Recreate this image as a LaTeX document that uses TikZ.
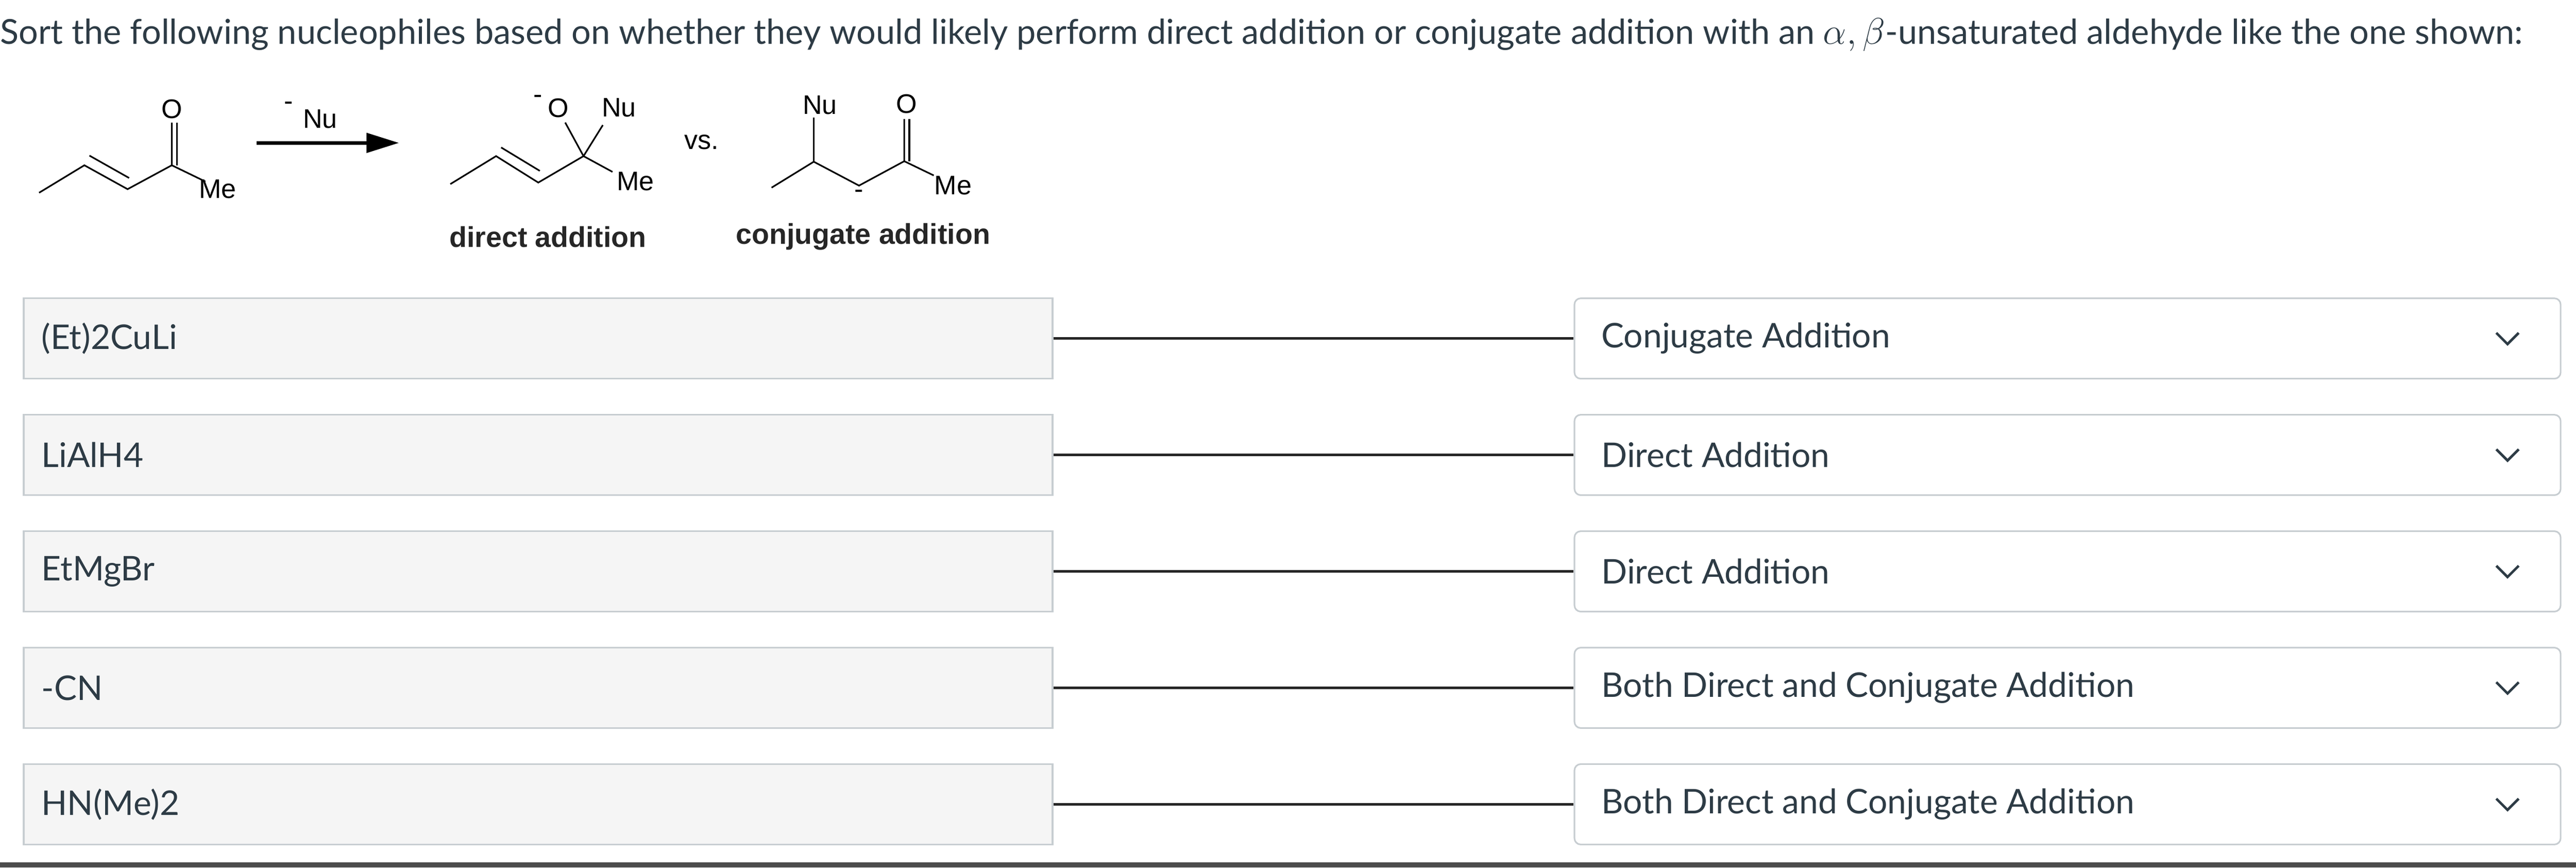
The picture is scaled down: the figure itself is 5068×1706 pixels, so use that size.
\documentclass[tikz,border=0pt]{standalone}
\usepackage{fontspec}
\setmainfont{Lato}
\newfontfamily\chemf{Liberation Sans}
\usetikzlibrary{arrows.meta}
\definecolor{boxfill}{HTML}{F5F5F5}
\definecolor{boxline}{HTML}{C7CDD1}
\definecolor{txt}{HTML}{2D3B45}
\tikzset{
 bond/.style={line width=0.9pt, black},
 chem/.style={font=\chemf\fontsize{15}{17}\selectfont, inner sep=0pt},
 minus/.style={font=\chemf\fontsize{15}{15}\selectfont, inner sep=0pt},
 lab/.style={font=\chemf\bfseries\fontsize{16}{18}\selectfont, inner sep=0pt, text=black!85},
 leftbox/.style={draw=boxline, fill=boxfill, line width=0.9pt, minimum width=20.23cm, minimum height=1.58cm, anchor=north west, inner sep=0pt},
 rightbox/.style={draw=boxline, fill=white, line width=0.9pt, rounded corners=3.5pt, minimum width=19.39cm, minimum height=1.58cm, anchor=north west, inner sep=0pt},
 itemtxt/.style={font=\fontsize{19}{22}\selectfont, text=txt, anchor=west, inner sep=0pt},
 link/.style={line width=1.4pt, black!85},
}
\begin{document}
\begin{tikzpicture}[x=0.01cm,y=-0.01cm]
\useasboundingbox (0,0) rectangle (5068,1706);
\fill[white] (0,0) rectangle (5068,1706);
\node[anchor=west, font=\fontsize{19.2}{22}\selectfont, text=txt, inner sep=0pt] (title) at (0,68)
 {Sort the following nucleophiles based on whether they would likely perform direct addition or conjugate addition with an $\alpha,\beta$-unsaturated aldehyde like the one shown:};
% reactant
\draw[bond] (77,379) -- (166,325) -- (251,372) -- (338,325) -- (338,241);
\draw[bond] (338,325) -- (404,357);
\draw[bond] (176,306) -- (254,350);
\draw[bond] (348,325) -- (348,241);
\node[chem] (o1) at (338,214) {O};
\node[chem] (me1) at (428,372) {Me};
% arrow
\node[chem] (nu0) at (630,234) {Nu};
\node[minus] (m0) at (568,208) {-};
\coordinate (a1) at (505,281);
\coordinate (a2) at (785,281);
\draw[line width=2pt, -{Triangle[length=0.64cm,width=0.38cm]}] (a1) -- (a2);
% product 1
\draw[bond] (886,362) -- (976,307) -- (1059,359) -- (1148,307) -- (1112,241);
\draw[bond] (1148,307) -- (1186,246);
\draw[bond] (1148,307) -- (1205,338);
\draw[bond] (986,290) -- (1062,336);
\node[chem] (o2) at (1098,212) {O};
\node[minus] (m2) at (1058,195) {-};
\node[chem] (nu2) at (1218,212) {Nu};
\node[chem] (me2) at (1250,357) {Me};
\node[chem] (vs) at (1380,280) {vs.};
% product 2
\draw[bond] (1518,369) -- (1601,318) -- (1690,365) -- (1779,317) -- (1779,234);
\draw[bond] (1601,318) -- (1601,231);
\draw[bond] (1779,317) -- (1837,345);
\draw[bond] (1789,317) -- (1789,234);
\node[chem] (nu3) at (1613,207) {Nu};
\node[chem] (o3) at (1784,204) {O};
\node[chem] (me3) at (1875,365) {Me};
\node[minus] (m3) at (1690,382) {-};
\node[lab] (da) at (1078,466) {direct addition};
\node[lab] (ca) at (1698,466) {conjugate addition};
% rows
\foreach \i/\lt/\rt in {0/(Et)2CuLi/Conjugate Addition,1/LiAlH4/Direct Addition,2/EtMgBr/Direct Addition,3/-CN/Both Direct and Conjugate Addition,4/HN(Me)2/Both Direct and Conjugate Addition}{
 \pgfmathsetmacro{\yy}{585+229*\i}
 \node[leftbox] (L\i) at (45,\yy) {};
 \node[rightbox] (R\i) at (3096,\yy) {};
 \node[itemtxt] (Lt\i) at ([xshift=0.36cm]L\i.west) {\lt};
 \node[itemtxt] (Rt\i) at ([xshift=0.54cm]R\i.west) {\rt};
 \draw[link] (L\i.east) -- (R\i.west);
 \coordinate (c\i) at ([xshift=-1.06cm]R\i.east);
 \draw[line width=1.4pt, txt, line join=miter] ([xshift=-0.22cm,yshift=0.11cm]c\i) -- ([yshift=-0.11cm]c\i) -- ([xshift=0.22cm,yshift=0.11cm]c\i);
}
\draw[line width=2.8pt, black!70] (0,1701) -- (5068,1701);
\end{tikzpicture}
\end{document}
